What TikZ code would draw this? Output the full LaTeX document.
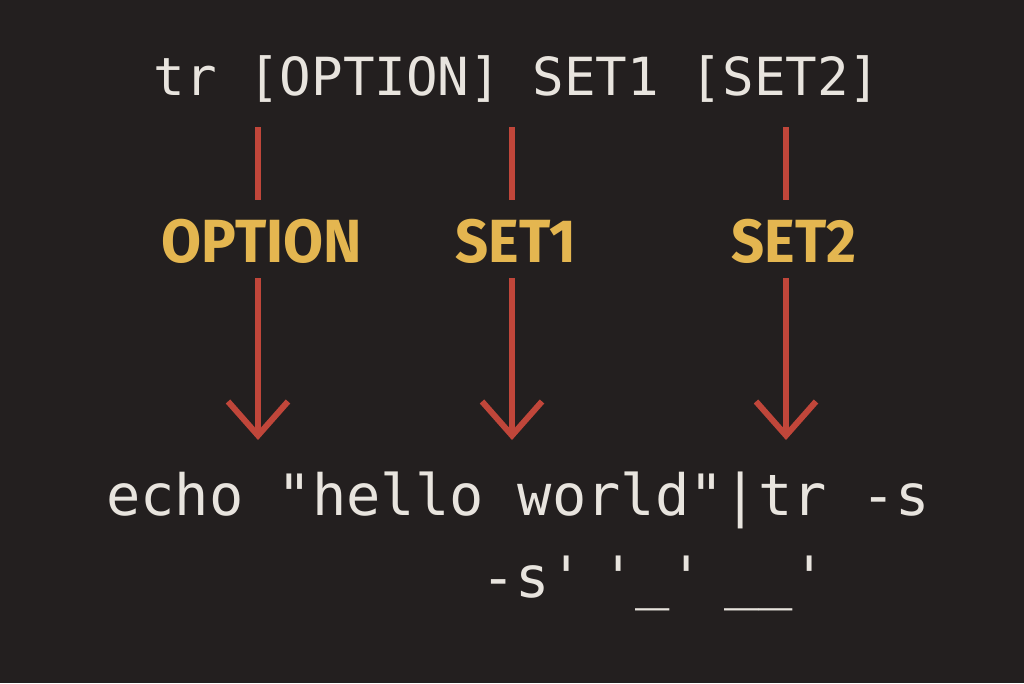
\documentclass[tikz,border=0pt]{standalone}
\usepackage{fontspec}
\setmonofont{DejaVu Sans Mono}
\newfontfamily\labelfont[FakeStretch=0.95]{Fira Sans}
\usetikzlibrary{arrows.meta}
\definecolor{bg}{HTML}{231F1F}
\definecolor{codefg}{HTML}{E8E4DE}
\definecolor{arrowred}{HTML}{C0463A}
\definecolor{labelyellow}{HTML}{E4B650}
\tikzset{
  code/.style={text=codefg, inner sep=0pt, font=\ttfamily\fontsize{#1}{#1}\selectfont},
  lbl/.style={text=labelyellow, inner sep=0pt, font=\labelfont\bfseries\fontsize{61}{61}\selectfont},
  conn/.style={draw=arrowred, line width=6pt},
  tipconn/.style={conn, -{Straight Barb[length=34pt,width=60pt,line width=6pt]}}
}
\begin{document}
\begin{tikzpicture}[x=1pt,y=-1pt]
\fill[bg] (0,0) rectangle (1024,683);
\useasboundingbox (0,0) rectangle (1024,683);
\node[code=52.5, anchor=base] (syn) at (517,95) {tr [OPTION] SET1 [SET2]};
\node[lbl] (opt) at (262,241) {OPTION};
\node[lbl] (s1) at (516,241) {SET1};
\node[lbl] (s2) at (794,241) {SET2};
\coordinate (ot) at (258,127);
\coordinate (st1) at (512,127);
\coordinate (st2) at (786,127);
\coordinate (om) at (258,200);
\coordinate (sm1) at (512,200);
\coordinate (sm2) at (786,200);
\coordinate (ol) at (258,278);
\coordinate (sl1) at (512,278);
\coordinate (sl2) at (786,278);
\coordinate (oe) at (258,440);
\coordinate (se1) at (512,440);
\coordinate (se2) at (786,440);
\draw[conn] (ot) -- (om);
\draw[conn] (st1) -- (sm1);
\draw[conn] (st2) -- (sm2);
\draw[tipconn] (ol) -- (oe);
\draw[tipconn] (sl1) -- (se1);
\draw[tipconn] (sl2) -- (se2);
\node[code=57, anchor=base] (cmd1) at (518,515) {echo "hello world"|tr -s};
\node[code=57, anchor=base west] (cmd2) at (481,597) {-s'\hspace{0.3em}'\_'\hspace{0.35em}\_\_'};
\end{tikzpicture}
\end{document}
